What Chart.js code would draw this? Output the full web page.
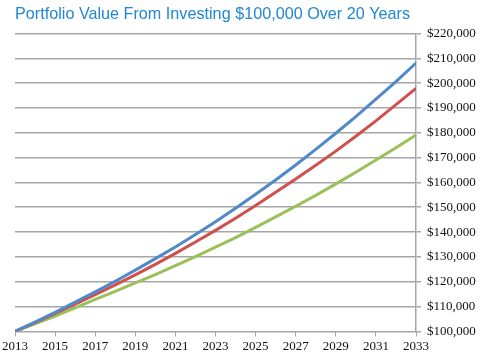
<!DOCTYPE html>
<html>
<head>
<meta charset="utf-8">
<script src="https://cdn.jsdelivr.net/npm/chart.js@4"></script>
<style>
html,body{margin:0;padding:0;background:#fff;}
#wrap{width:480px;height:356px;position:relative;}
</style>
</head>
<body>
<div id="wrap"><canvas id="c" width="480" height="356"></canvas></div>
<script>
const years = [2013,2014,2015,2016,2017,2018,2019,2020,2021,2022,2023,2024,2025,2026,2027,2028,2029,2030,2031,2032,2033];
const blueValues  = [100000,103700,107700,111800,115900,120200,124700,129300,134000,139000,144200,149600,155200,161000,167000,173300,179800,186500,193500,200600,208100];
const redValues   = [100000,103500,107300,111000,114800,118700,122800,127000,131400,136000,140700,145600,150700,156000,161400,166900,172600,178600,184800,191300,197900];
const greenValues = [100000,103000,106200,109500,112900,116100,119500,122900,126500,130100,133900,137800,141900,146100,150400,154800,159400,164100,169000,174000,179100];
const xTicks = [2013,2015,2017,2019,2021,2023,2025,2027,2029,2031,2033];
const titleText = 'Portfolio Value From Investing $100,000 Over 20 Years';

const toPts = arr => arr.map((v,i)=>({x:years[i], y:v}));
const gridGray = '#a6a6a6';

new Chart(document.getElementById('c'), {
  type: 'line',
  data: {
    datasets: [
      {data: toPts(blueValues), borderColor:'#4f89c8', borderWidth:3, pointRadius:0, tension:0, fill:false},
      {data: toPts(redValues), borderColor:'#cf504c', borderWidth:3, pointRadius:0, tension:0, fill:false},
      {data: toPts(greenValues), borderColor:'#9bc05a', borderWidth:3, pointRadius:0, tension:0, fill:false}
    ]
  },
  options: {
    responsive:false,
    animation:false,
    devicePixelRatio:1,
    layout:{padding:{left:0,right:2,top:0,bottom:0}},
    plugins:{
      legend:{display:false},
      tooltip:{enabled:false},
      title:{display:true, fullSize:false, text:titleText, align:'start', color:'#2088d0',
        font:{family:'Liberation Sans', size:16.2, weight:'normal'}, padding:{top:5,bottom:9}}
    },
    scales:{
      x:{type:'linear', min:2013, max:2033,
        afterBuildTicks: s => { s.ticks = xTicks.map(v=>({value:v})); },
        ticks:{color:'#111', font:{family:'Liberation Serif', size:13}, padding:2, maxRotation:0,
          callback: v => String(v)},
        grid:{drawOnChartArea:false, drawTicks:true, tickLength:5, color:gridGray},
        border:{display:true, color:gridGray}
      },
      y:{position:'right', min:100000, max:220000,
        ticks:{stepSize:10000, color:'#111', font:{family:'Liberation Serif', size:13}, padding:6,
          callback: v => '$' + v.toLocaleString('en-US')},
        grid:{color:gridGray, lineWidth:1.5, drawTicks:true, tickLength:5, tickColor:gridGray},
        border:{display:true, color:gridGray, width:1.5},
        afterFit: s => { s.width = 62; }
      }
    }
  }
});
</script>
</body>
</html>
